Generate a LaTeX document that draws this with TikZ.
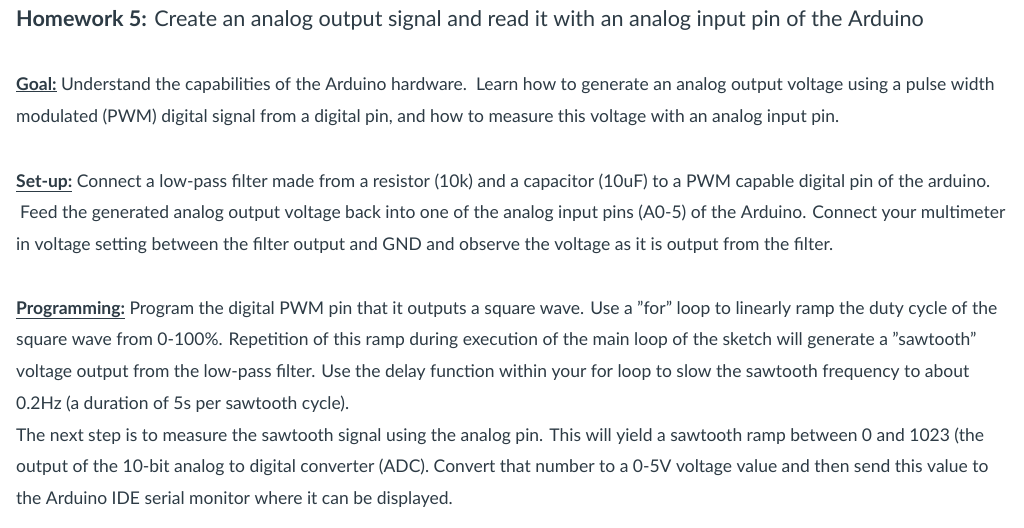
\documentclass[tikz,border=0pt]{standalone}
\usepackage{fontspec}
\setmainfont{Lato}
\definecolor{txt}{HTML}{2D3B45}
\newcommand{\q}{\symbol{34}}
\begin{document}
\begin{tikzpicture}[x=1pt,y=1pt,
  ln/.style={anchor=base west,inner sep=0pt,text=txt,font=\fontsize{17.5}{20}\selectfont},
  ttl/.style={anchor=base west,inner sep=0pt,text=txt,font=\fontsize{21.6}{24}\selectfont}]
\useasboundingbox[fill=white] (0,0) rectangle (1024,-527);
\node[ttl] (t) at (16,-27) {\textbf{Homework 5:} Create an analog output signal and read it with an analog input pin of the Arduino};
\node[ln] (g1) at (16,-90) {\textbf{\underline{Goal:}} Understand the capabilities of the Arduino hardware.\ \ Learn how to generate an analog output voltage using a pulse width};
\node[ln] (g2) at (16,-122) {modulated (PWM) digital signal from a digital pin, and how to measure this voltage with an analog input pin.};
\node[ln] (s1) at (16,-187) {\textbf{\underline{Set-up:}} Connect a low-pass filter made from a resistor (10k) and a capacitor (10uF) to a PWM capable digital pin of the arduino.};
\node[ln] (s2) at (20,-218) {Feed the generated analog output voltage back into one of the analog input pins (A0-5) of the Arduino. Connect your multimeter};
\node[ln] (s3) at (16,-250) {in voltage setting between the filter output and GND and observe the voltage as it is output from the filter.};
\node[ln] (p1) at (16,-314) {\textbf{\underline{Programming:}} Program the digital PWM pin that it outputs a square wave. Use a \q for\q{} loop to linearly ramp the duty cycle of the};
\node[ln] (p2) at (16,-345) {square wave from 0-100\%. Repetition of this ramp during execution of the main loop of the sketch will generate a \q sawtooth\q};
\node[ln] (p3) at (16,-377) {voltage output from the low-pass filter. Use the delay function within your for loop to slow the sawtooth frequency to about};
\node[ln] (p4) at (16,-409) {0.2Hz (a duration of 5s per sawtooth cycle).};
\node[ln] (p5) at (16,-441) {The next step is to measure the sawtooth signal using the analog pin. This will yield a sawtooth ramp between 0 and 1023 (the};
\node[ln] (p6) at (16,-472) {output of the 10-bit analog to digital converter (ADC). Convert that number to a 0-5V voltage value and then send this value to};
\node[ln] (p7) at (16,-504) {the Arduino IDE serial monitor where it can be displayed.};
\end{tikzpicture}
\end{document}
